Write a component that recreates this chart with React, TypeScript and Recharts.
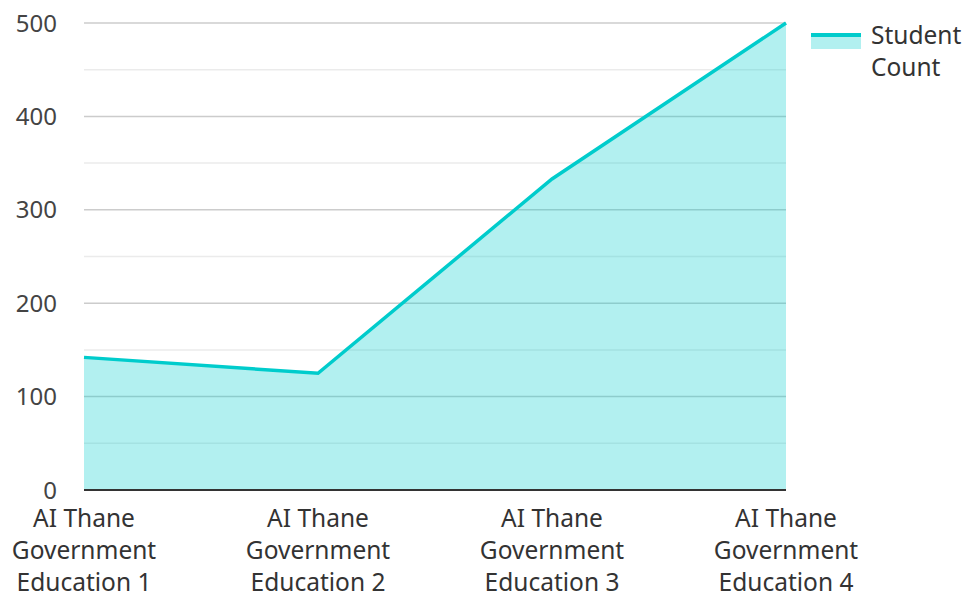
import React from 'react'
import {
  AreaChart,
  Area,
  XAxis,
  YAxis,
  CartesianGrid,
  Legend,
} from 'recharts'

const categories = [
  'AI Thane\nGovernment\nEducation 1',
  'AI Thane\nGovernment\nEducation 2',
  'AI Thane\nGovernment\nEducation 3',
  'AI Thane\nGovernment\nEducation 4',
]
const studentCount = [142, 125, 333, 500]
// every 50 gets a grid line, only the hundreds get a label
const gridTicks = [0, 50, 100, 150, 200, 250, 300, 350, 400, 450, 500]
const legendLines = ['Student', 'Count']

const data = categories.map((name, i) => ({ name, count: studentCount[i] }))

const TEAL = '#00cccc'
const FONT = '"Noto Sans", "Open Sans", sans-serif'

function XTick({ x, y, payload }: { x?: number; y?: number; payload?: { value: string } }) {
  const lines = (payload?.value ?? '').split('\n')
  return (
    <text x={x} y={y} textAnchor="middle" fill="#333" fontSize={24.5} fontFamily={FONT}>
      {lines.map((l, i) => (
        <tspan key={i} x={x} dy={i === 0 ? 37 : 32}>
          {l}
        </tspan>
      ))}
    </text>
  )
}

function GridLine(props: any) {
  const { x1, x2, y1, y2, index } = props
  const major = gridTicks[index] % 100 === 0
  return (
    <line
      x1={x1}
      x2={x2}
      y1={y1}
      y2={y2}
      stroke={major ? '#cccccc' : '#ebebeb'}
      strokeWidth={1.5}
      fill="none"
    />
  )
}

function LegendBox() {
  return (
    <div style={{ display: 'flex', alignItems: 'flex-start', fontFamily: FONT, fontSize: 24.5, color: '#333' }}>
      <svg width={50} height={16} style={{ marginTop: 11, flexShrink: 0 }}>
        <rect x={0} y={0} width={50} height={16} fill={TEAL} fillOpacity={0.3} />
        <rect x={0} y={0} width={50} height={4} fill={TEAL} />
      </svg>
      <div style={{ marginLeft: 10, marginTop: -3, lineHeight: '32px' }}>
        {legendLines.map(l => (
          <div key={l}>{l}</div>
        ))}
      </div>
    </div>
  )
}

export default function App() {
  return (
    <div style={{ position: 'absolute', left: 0, top: 0, width: 967, height: 594, background: '#fff', fontFamily: FONT }}>
      <AreaChart width={967} height={594} data={data} margin={{ top: 23, right: 25, left: 0, bottom: 0 }}>
        <CartesianGrid vertical={false} horizontal={(p: any) => <GridLine {...p} />} />
        <XAxis
          dataKey="name"
          height={104}
          tick={<XTick />}
          tickLine={false}
          tickSize={0}
          tickMargin={0}
          axisLine={{ stroke: '#333', strokeWidth: 2 }}
          interval={0}
        />
        <YAxis
          width={84}
          domain={[0, 500]}
          ticks={gridTicks}
          interval={0}
          tickFormatter={v => (v % 100 === 0 ? String(v) : '')}
          axisLine={false}
          tickLine={false}
          tickSize={6}
          tickMargin={21}
          tick={{ fontSize: 24, fill: '#444', fontFamily: FONT }}
        />
        <Legend
          layout="vertical"
          align="right"
          verticalAlign="top"
          content={() => <LegendBox />}
          wrapperStyle={{ left: 811, top: 22, width: 156 }}
        />
        <Area
          type="linear"
          dataKey="count"
          name="Student Count"
          stroke={TEAL}
          strokeWidth={3.5}
          fill={TEAL}
          fillOpacity={0.3}
          dot={false}
          activeDot={false}
          isAnimationActive={false}
        />
      </AreaChart>
    </div>
  )
}
